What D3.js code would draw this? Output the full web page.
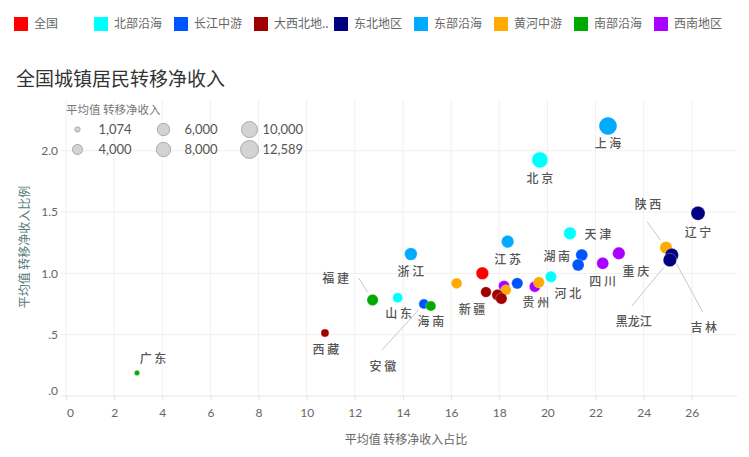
<!DOCTYPE html>
<html>
<head>
<meta charset="utf-8">
<script src="https://cdn.jsdelivr.net/npm/d3@7"></script>
<style>
  body { margin: 0; background: #fff; }
  svg { display: block; }
  .cn { font-family: "Noto Sans CJK SC", sans-serif; }
  .num { font-family: "Lato", "Noto Sans", sans-serif; }
</style>
</head>
<body>
<div id="chart"></div>
<script>
// region legend
var regions = ["全国", "北部沿海", "长江中游", "大西北地..", "东北地区", "东部沿海", "黄河中游", "南部沿海", "西南地区"];
var regionColors = ["#ff0000", "#00ffff", "#0055ff", "#a00000", "#000080", "#00aaff", "#ffaa00", "#00aa00", "#aa00ff"];

// one entry per point
var names    = ["上海", "北京", "天津", "河北", "山东", "江苏", "浙江", "湖南", "湖北", "江西", "安徽",
                "重庆", "四川", "贵州", "云南", "陕西", "内蒙古", "山西", "河南", "新疆", "甘肃", "青海",
                "西藏", "广东", "福建", "海南", "辽宁", "吉林", "黑龙江", "全国"];
var pointRegion = [5, 1, 1, 1, 1, 5, 5, 2, 2, 2, 2,
                   8, 8, 8, 8, 6, 6, 6, 6, 3, 3, 3,
                   3, 7, 7, 7, 4, 4, 4, 0];
var shareValues = [22.52, 19.69, 20.94, 20.15, 13.78, 18.35, 14.33, 21.43, 21.28, 18.75, 14.87,
                   22.97, 22.30, 19.48, 18.20, 24.93, 16.23, 18.28, 19.65, 17.45, 17.93, 18.09,
                   10.76, 2.95, 12.74, 15.16, 26.26, 25.17, 25.09, 17.30];
var ratioValues = [2.202, 1.925, 1.327, 0.973, 0.801, 1.259, 1.158, 1.150, 1.068, 0.919, 0.750,
                   1.164, 1.082, 0.892, 0.897, 1.210, 0.919, 0.865, 0.927, 0.848, 0.824, 0.795,
                   0.514, 0.188, 0.783, 0.734, 1.490, 1.150, 1.109, 1.001];
var incomeValues = [12589, 9950, 6100, 4900, 3900, 6100, 6200, 5600, 5600, 5000, 4000,
                    6000, 5600, 4800, 4800, 6000, 4500, 4300, 4800, 4400, 5000, 5000,
                    2500, 1074, 5000, 4000, 7600, 7000, 7000, 6100];

var xTicks = [0, 2, 4, 6, 8, 10, 12, 14, 16, 18, 20, 22, 24, 26];
var yTicks = [0, 0.5, 1, 1.5, 2];
var yTickLabels = [".0", ".5", "1.0", "1.5", "2.0"];
var sizeLegendValues = [1074, 4000, 6000, 8000, 10000, 12589];
var sizeLegendLabels = ["1,074", "4,000", "6,000", "8,000", "10,000", "12,589"];

// label placement relative to the point: [dx, dy] and optional leader start relative to label
var labelPos = {
  "上海": [0, 18], "北京": [0, 19], "辽宁": [0, 19], "天津": [28, 1], "湖南": [-25, 2],
  "重庆": [17, 18], "四川": [0, 18], "河北": [17, 17], "江苏": [0, 18], "贵州": [1, 16],
  "新疆": [-14, 18], "浙江": [0, 18], "山东": [1, 16], "海南": [0, 16], "西藏": [1, 17],
  "广东": [16, -14],
  "陕西": [-18, -43, -1, 17], "黑龙江": [-36, 62, -2, -16], "吉林": [32, 73, -1, -16],
  "福建": [-37, -21, 23, -1], "安徽": [-41, 63, -1, -17]
};

var width = 749, height = 457;
var margin = {top: 100, right: 12, bottom: 61, left: 66};

var svg = d3.select("#chart").append("svg")
    .attr("width", width)
    .attr("height", height);

var x = d3.scaleLinear().domain([0, 27.88]).range([margin.left, width - margin.right]);
var y = d3.scaleLinear().domain([0, 2.414]).range([height - margin.bottom, margin.top]);
var r = d3.scaleSqrt().domain([0, 12589]).range([0, 9]);

// gridlines
svg.append("g").selectAll("line")
    .data(xTicks).enter().append("line")
    .attr("x1", d => x(d)).attr("x2", d => x(d))
    .attr("y1", y.range()[1]).attr("y2", y(0))
    .attr("stroke", "#f0f0f0");

svg.append("g").selectAll("line")
    .data(yTicks).enter().append("line")
    .attr("x1", margin.left - 5).attr("x2", x.range()[1])
    .attr("y1", d => y(d)).attr("y2", d => y(d))
    .attr("stroke", d => d == 0 ? "#e6e6e6" : "#f0f0f0");

// x axis
var xAxis = svg.append("g")
    .attr("transform", "translate(0," + y(0) + ")")
    .call(d3.axisBottom(x).tickValues(xTicks).tickSize(4).tickSizeOuter(0).tickPadding(8));
xAxis.select(".domain").remove();
xAxis.selectAll(".tick line").attr("stroke", "#e6e6e6");
xAxis.selectAll("text").attr("class", "num").attr("fill", "#666").style("font-size", "12px")
    .attr("dx", d => d == 0 ? 4 : 0);

// y axis labels
svg.append("g").selectAll("text")
    .data(yTicks).enter().append("text")
    .attr("class", "num")
    .attr("x", margin.left - 8)
    .attr("y", d => y(d) + (d == 0 ? -5 : 0))
    .attr("dy", "0.35em")
    .attr("text-anchor", "end")
    .attr("fill", "#666")
    .style("font-size", "12px")
    .text((d, i) => yTickLabels[i]);

// axis titles
svg.append("text")
    .attr("class", "cn")
    .attr("x", 406).attr("y", 444)
    .attr("text-anchor", "middle")
    .attr("fill", "#666")
    .style("font-size", "12px")
    .text("平均值 转移净收入占比");

svg.append("text")
    .attr("class", "cn")
    .attr("transform", "translate(29,247) rotate(-90)")
    .attr("text-anchor", "middle")
    .attr("fill", "#557a7a")
    .style("font-size", "12px")
    .text("平均值 转移净收入比例");

// title
svg.append("text")
    .attr("class", "cn")
    .attr("x", 16).attr("y", 86)
    .attr("fill", "#333")
    .style("font-size", "19px")
    .text("全国城镇居民转移净收入");

// colour legend
var legend = svg.append("g").selectAll("g")
    .data(regions).enter().append("g")
    .attr("transform", (d, i) => "translate(" + (14 + i * 80) + ",17)");
legend.append("rect")
    .attr("width", 14).attr("height", 14)
    .attr("fill", (d, i) => regionColors[i]);
legend.append("text")
    .attr("class", "cn")
    .attr("x", 20).attr("y", 7).attr("dy", "0.36em")
    .attr("fill", "#666")
    .style("font-size", "12px")
    .text(d => d);

// size legend
svg.append("text")
    .attr("class", "cn")
    .attr("x", 66).attr("y", 114)
    .attr("fill", "#777")
    .style("font-size", "11.5px")
    .text("平均值 转移净收入");

var sizeCols = [77.5, 163.5, 249.5];
var sizeRows = [129.5, 149.5];
var sizeItems = svg.append("g").selectAll("g")
    .data(sizeLegendValues).enter().append("g")
    .attr("transform", (d, i) => "translate(" + sizeCols[Math.floor(i / 2)] + "," + sizeRows[i % 2] + ")");
sizeItems.append("circle")
    .attr("r", d => r(d))
    .attr("fill", "#d3d3d3")
    .attr("stroke", "#aaa")
    .attr("stroke-width", 1);
sizeItems.append("text")
    .attr("class", "num")
    .attr("x", (d, i) => i >= 4 ? 13 : 21)
    .attr("dy", "0.36em")
    .attr("fill", "#555")
    .style("font-size", "13px")
    .text((d, i) => sizeLegendLabels[i]);

// points
var points = names.map(function(n, i) {
  return {name: n, region: pointRegion[i], share: shareValues[i], ratio: ratioValues[i], income: incomeValues[i]};
});

svg.append("g").selectAll("circle")
    .data(points).enter().append("circle")
    .attr("cx", d => x(d.share))
    .attr("cy", d => y(d.ratio))
    .attr("r", d => r(d.income))
    .attr("fill", d => regionColors[d.region])
    .attr("stroke", "#fff")
    .attr("stroke-opacity", 0.5)
    .attr("stroke-width", 0.6);

// labels and leader lines
var labelled = points.filter(d => labelPos[d.name]);

svg.append("g").selectAll("line")
    .data(labelled.filter(d => labelPos[d.name].length > 2)).enter().append("line")
    .each(function(d) {
      var p = labelPos[d.name];
      var px = x(d.share), py = y(d.ratio);
      var sx = px + p[0] + p[2], sy = py + p[1] + p[3];
      var dx = px - sx, dy = py - sy, len = Math.sqrt(dx * dx + dy * dy);
      var stop = r(d.income) + 3;
      d3.select(this)
        .attr("x1", sx).attr("y1", sy)
        .attr("x2", px - dx / len * stop).attr("y2", py - dy / len * stop)
        .attr("stroke", "#c8c8c8").attr("stroke-width", 1);
    });

svg.append("g").selectAll("text")
    .data(labelled).enter().append("text")
    .attr("class", "cn")
    .attr("x", d => x(d.share) + labelPos[d.name][0])
    .attr("y", d => y(d.ratio) + labelPos[d.name][1])
    .attr("dy", "0.36em")
    .attr("text-anchor", "middle")
    .attr("fill", "#555")
    .style("font-size", "12px")
    .style("font-weight", "500")
    .text(d => d.name.length == 2 ? d.name.split("").join(" ") : d.name);
</script>
</body>
</html>
